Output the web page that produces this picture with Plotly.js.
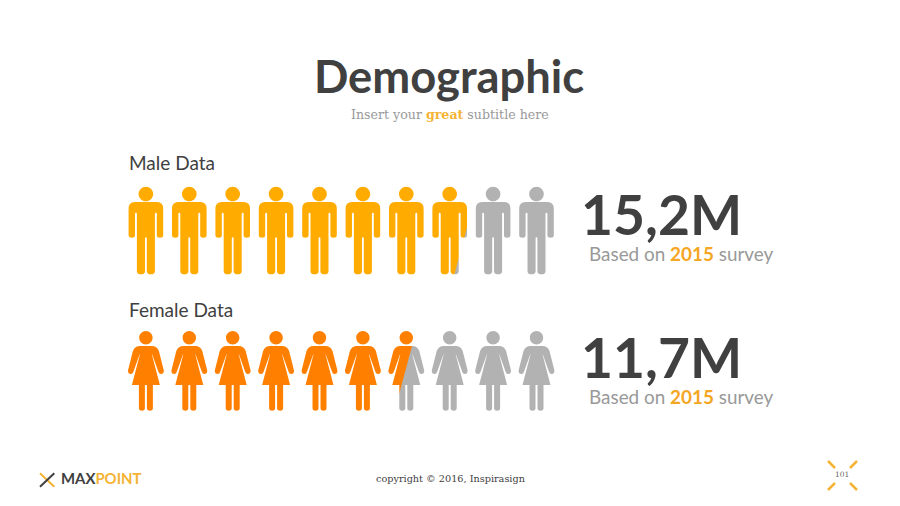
<!DOCTYPE html>
<html>
<head>
<meta charset="utf-8">
<script src="https://cdn.plot.ly/plotly-3.0.1.min.js"></script>
<style>html,body{margin:0;padding:0;background:#fff}#c{width:900px;height:506px}</style>
</head>
<body>
<div id="c"></div>
<script>
// ---- data ----
var categories = ['Male Data', 'Female Data'];
var headlineValues = ['15,2M', '11,7M'];
var iconTotals = [10, 10];
var filledIcons = [7.88, 6.48];
var surveyYears = ['2015', '2015'];
var fillColors = ['#FFAB00', '#FF8000'];

// ---- style ----
var W = 900, H = 506;
var UNIT = 43.4, X0 = 124.2, ROW = 140, Y0 = 230.5;
var BAND = 0.66, SLANT = 0.287;
var GREY = '#B2B2B2', DARK = '#404040', MID = '#999999', GOLD = '#F5B335';

var MALE = {
  top: 43.8, head: [0, 7.3, 7.3],
  body: 'M -11 15.3 L 11 15.3 Q 17.3 15.3 17.3 22 L 17.3 48.5 Q 17.3 51 14 51 Q 10.9 51 10.9 48.5 L 10.9 27 Q 10.9 26 10 26 Q 9 26 9 27 L 9 84.5 Q 9 87.6 5 87.6 Q 0.9 87.6 0.9 84.5 L 0.9 51.5 Q 0.9 50.5 0 50.5 Q -0.9 50.5 -0.9 51.5 L -0.9 84.5 Q -0.9 87.6 -5 87.6 Q -9 87.6 -9 84.5 L -9 27 Q -9 26 -10 26 Q -10.9 26 -10.9 27 L -10.9 48.5 Q -10.9 51 -14 51 Q -17.3 51 -17.3 48.5 L -17.3 22 Q -17.3 15.3 -11 15.3 Z'
};
var FEMALE = {
  top: 39.5, head: [0, 6.7, 6.7],
  body: 'M -6 15 L 6 15 Q 11 15 13 20 L 17.8 39 Q 18.5 42.5 15.5 43 Q 13.5 43.5 12.6 41 L 6.3 23.5 L 6 23.5 L 14 54 L 7 54 L 7 77 Q 7 79.7 4 79.7 Q 1 79.7 1 77 L 1 54 L -1 54 L -1 77 Q -1 79.7 -4 79.7 Q -7 79.7 -7 77 L -7 54 L -14 54 L -6 23.5 L -6.3 23.5 L -12.6 41 Q -13.5 43.5 -15.5 43 Q -18.5 42.5 -17.8 39 L -13 20 Q -11 15 -6 15 Z'
};
var ICONS = [MALE, FEMALE];

// ---- icon outlines in axis units ----
function toX(i, u) { return (i + 0.5 + u / UNIT).toFixed(4); }
function toY(r, tpl, v) { return (r + (v - tpl.top) / ROW).toFixed(4); }
function place(tpl, r, i, d) {
  return d.replace(/(-?[\d.]+) (-?[\d.]+)/g, function (m, u, v) {
    return toX(i, +u) + ' ' + toY(r, tpl, +v);
  });
}
function headPath(tpl) {
  var x = tpl.head[0], y = tpl.head[1], a = tpl.head[2], k = a * 0.5523;
  return 'M ' + (x - a) + ' ' + y +
    ' C ' + (x - a) + ' ' + (y - k) + ' ' + (x - k) + ' ' + (y - a) + ' ' + x + ' ' + (y - a) +
    ' C ' + (x + k) + ' ' + (y - a) + ' ' + (x + a) + ' ' + (y - k) + ' ' + (x + a) + ' ' + y +
    ' C ' + (x + a) + ' ' + (y + k) + ' ' + (x + k) + ' ' + (y + a) + ' ' + x + ' ' + (y + a) +
    ' C ' + (x - k) + ' ' + (y + a) + ' ' + (x - a) + ' ' + (y + k) + ' ' + (x - a) + ' ' + y + ' Z';
}
function maskPath(r) {
  var tpl = ICONS[r], n = iconTotals[r], h = BAND / 2 + 0.03;
  var d = 'M -0.1 ' + (r - h) + ' L ' + (n + 0.1) + ' ' + (r - h) + ' L ' + (n + 0.1) + ' ' + (r + h) + ' L -0.1 ' + (r + h) + ' Z ';
  for (var i = 0; i < n; i++) {
    d += place(tpl, r, i, tpl.body) + ' ' + place(tpl, r, i, headPath(tpl)) + ' ';
  }
  return d;
}

// ---- traces ----
var rows = categories.map(function (c, r) { return r; });
var traces = [{
  type: 'bar', orientation: 'h', y: rows, x: iconTotals, width: BAND,
  marker: { color: GREY, line: { width: 0 } }, hoverinfo: 'skip'
}];
rows.forEach(function (r) {
  var v = filledIcons[r], h = BAND / 2;
  traces.push({
    type: 'scatter', mode: 'lines', fill: 'toself', name: categories[r],
    x: [0, v + SLANT, v - SLANT, 0, 0],
    y: [r - h, r - h, r + h, r + h, r - h],
    fillcolor: fillColors[r], line: { width: 0, color: fillColors[r] }, hoverinfo: 'skip'
  });
});

// ---- page furniture ----
var font = 'Lato, sans-serif', serif = '"DejaVu Serif", serif';
function px(x) { return x / W; }
function py(y) { return 1 - y / H; }
function note(text, x, y, size, color, fam, anchor) {
  return { text: text, x: px(x), y: py(y), xref: 'paper', yref: 'paper', xanchor: anchor || 'left', yanchor: 'middle',
    showarrow: false, align: 'left', font: { family: fam || font, size: size, color: color } };
}
function seg(x1, y1, x2, y2, c, w) {
  return { type: 'line', xref: 'paper', yref: 'paper', x0: px(x1), y0: py(y1), x1: px(x2), y1: py(y2),
    line: { color: c, width: w } };
}
var annotations = [
  note('Insert your <b><span style="color:' + GOLD + '">great</span></b> subtitle here', 450, 114, 12.6, MID, serif, 'center'),
  note('copyright © 2016, Inspirasign', 450.5, 478, 9.7, DARK, serif, 'center'),
  note('101', 842, 474.5, 7.5, '#666666', serif, 'center'),
  note('<b>MAX<span style="color:' + GOLD + '">POINT</span></b>', 59, 478, 14.9, DARK)
];
rows.forEach(function (r) {
  annotations.push(note(categories[r], 127, 162.5 + r * 146.5, 19, DARK));
  annotations.push(note('<b>' + headlineValues[r] + '</b>', 579, 213.5 + r * 143, 55.2, DARK));
  annotations.push(note('Based on <b><span style="color:#F5A623">' + surveyYears[r] + '</span></b> survey', 587, 253.3 + r * 143, 18.9, MID));
});
var shapes = rows.map(function (r) {
  return { type: 'path', xref: 'x', yref: 'y', path: maskPath(r), fillcolor: '#FFFFFF', fillrule: 'evenodd',
    line: { width: 0 }, layer: 'above' };
}).concat([
  seg(40, 473.3, 54.3, 486.7, GOLD, 2),
  seg(54.3, 473.3, 40, 486.7, DARK, 2),
  seg(828, 461, 835, 468, GOLD, 2.5),
  seg(857, 461, 850, 468, GOLD, 2.5),
  seg(828, 490, 835, 483, GOLD, 2.5),
  seg(857, 490, 850, 483, GOLD, 2.5)
]);

var layout = {
  width: W, height: H, margin: { l: 0, r: 0, t: 0, b: 0 }, showlegend: false,
  paper_bgcolor: '#FFFFFF', plot_bgcolor: '#FFFFFF',
  title: { text: '<b>Demographic</b>', x: 449 / W, xref: 'paper', xanchor: 'center', y: py(77), yref: 'paper', yanchor: 'middle',
    font: { family: font, size: 45.3, color: DARK } },
  xaxis: { range: [-X0 / UNIT, (W - X0) / UNIT], visible: false, fixedrange: true },
  yaxis: { range: [(H - Y0) / ROW, -Y0 / ROW], visible: false, fixedrange: true },
  annotations: annotations, shapes: shapes
};
Plotly.newPlot('c', traces, layout, { displayModeBar: false, staticPlot: true });
</script>
</body>
</html>
